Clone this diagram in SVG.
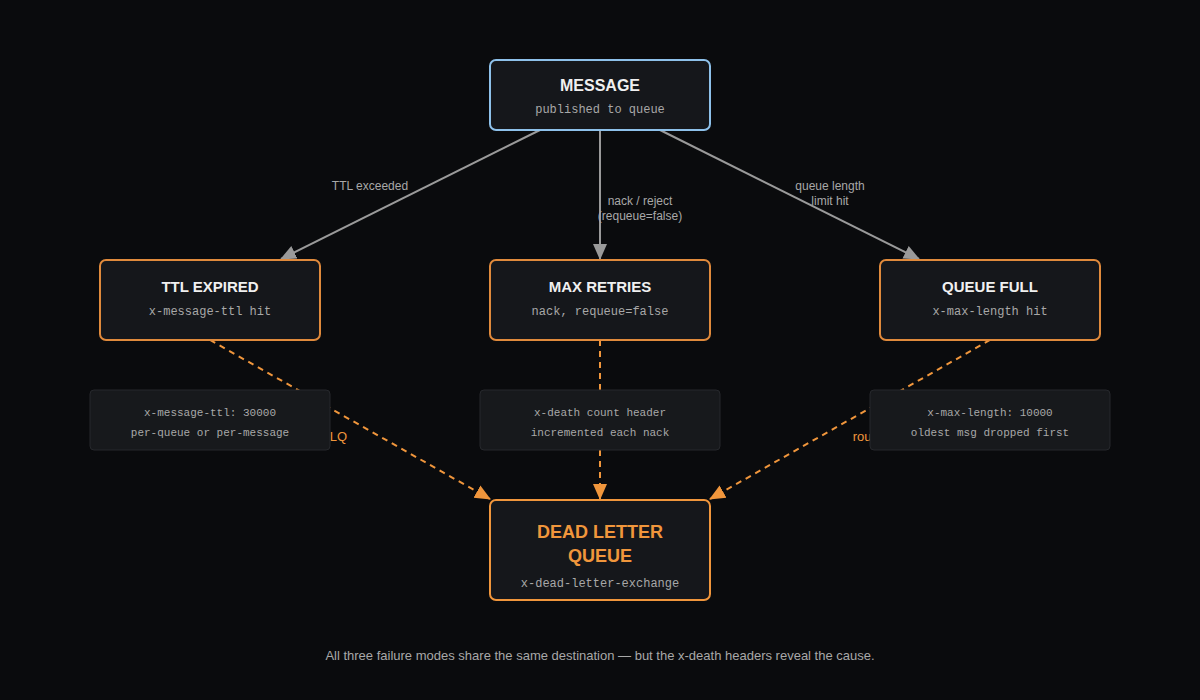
<svg xmlns="http://www.w3.org/2000/svg" width="1200" height="700" viewBox="0 0 1200 700">
<style>
.node{fill:#15171b;stroke-width:2}
.t{font-family:"Liberation Sans",Arial,sans-serif;font-weight:bold;fill:#f0f0f0;text-anchor:middle}
.m{font-family:"Liberation Mono",monospace;fill:#a8a8a8;text-anchor:middle;font-size:12px}
.n{font-family:"Liberation Mono",monospace;fill:#a8a8a8;text-anchor:middle;font-size:11px}
.l{font-family:"Liberation Sans",Arial,sans-serif;fill:#a8a8a8;text-anchor:middle;font-size:12px}
.g{stroke:#9a9a9a;stroke-width:2;fill:none}
.o{stroke:#f0963c;stroke-width:2;fill:none;stroke-dasharray:6 5}
.note{fill:#17191c;stroke:#26282c;stroke-width:1}
</style>
<defs>
<marker id="ag" viewBox="0 0 10 10" refX="9" refY="5" markerWidth="8" markerHeight="8" orient="auto-start-reverse" markerUnits="userSpaceOnUse"><path d="M0,0L10,5L0,10z" fill="#9a9a9a" transform="scale(1.6) translate(-4,-2)"/></marker>
<marker id="ao" viewBox="0 0 16 16" refX="15" refY="8" markerWidth="16" markerHeight="16" orient="auto" markerUnits="userSpaceOnUse"><path d="M0,1L16,8L0,15z" fill="#f0963c"/></marker>
<marker id="ag2" viewBox="0 0 16 16" refX="15" refY="8" markerWidth="16" markerHeight="16" orient="auto" markerUnits="userSpaceOnUse"><path d="M0,1L16,8L0,15z" fill="#9a9a9a"/></marker>
</defs>
<rect width="1200" height="700" fill="#0a0b0d"/>
<g id="connectors">
<line class="g" x1="540" y1="130" x2="281" y2="259" marker-end="url(#ag2)"/>
<line class="g" x1="600" y1="130" x2="600" y2="259" marker-end="url(#ag2)"/>
<line class="g" x1="660" y1="130" x2="919" y2="259" marker-end="url(#ag2)"/>
<text class="l" x="370" y="190">TTL exceeded</text>
<text class="l" x="640" y="205">nack / reject</text>
<text class="l" x="640" y="220">(requeue=false)</text>
<text class="l" x="830" y="190">queue length</text>
<text class="l" x="830" y="205">limit hit</text>
<line class="o" x1="210" y1="340" x2="490" y2="499" marker-end="url(#ao)"/>
<line class="o" x1="600" y1="340" x2="600" y2="499" marker-end="url(#ao)"/>
<line class="o" x1="990" y1="340" x2="710" y2="499" marker-end="url(#ao)"/>
<text x="310" y="441" style="font-family:'Liberation Sans',Arial,sans-serif;font-size:13px;fill:#f0963c" text-anchor="middle">route to DLQ</text>
<text x="890" y="441" style="font-family:'Liberation Sans',Arial,sans-serif;font-size:13px;fill:#f0963c" text-anchor="middle">route to DLQ</text>
</g>
<g id="message"><rect class="node" x="490" y="60" width="220" height="70" rx="6" stroke="#8ec1ea"/><text class="t" x="600" y="91" font-size="16">MESSAGE</text><text class="m" x="600" y="113">published to queue</text></g>
<g id="ttl"><rect class="node" x="100" y="260" width="220" height="80" rx="6" stroke="#e08a3c"/><text class="t" x="210" y="292" font-size="15">TTL EXPIRED</text><text class="m" x="210" y="315">x-message-ttl hit</text></g>
<g id="retries"><rect class="node" x="490" y="260" width="220" height="80" rx="6" stroke="#e08a3c"/><text class="t" x="600" y="292" font-size="15">MAX RETRIES</text><text class="m" x="600" y="315">nack, requeue=false</text></g>
<g id="full"><rect class="node" x="880" y="260" width="220" height="80" rx="6" stroke="#e08a3c"/><text class="t" x="990" y="292" font-size="15">QUEUE FULL</text><text class="m" x="990" y="315">x-max-length hit</text></g>
<g id="note1"><rect class="note" x="90" y="390" width="240" height="60" rx="4"/><text class="n" x="210" y="416">x-message-ttl: 30000</text><text class="n" x="210" y="436">per-queue or per-message</text></g>
<g id="note2"><rect class="note" x="480" y="390" width="240" height="60" rx="4"/><text class="n" x="600" y="416">x-death count header</text><text class="n" x="600" y="436">incremented each nack</text></g>
<g id="note3"><rect class="note" x="870" y="390" width="240" height="60" rx="4"/><text class="n" x="990" y="416">x-max-length: 10000</text><text class="n" x="990" y="436">oldest msg dropped first</text></g>
<g id="dlq"><rect class="node" x="490" y="500" width="220" height="100" rx="6" stroke="#f0963c"/><text class="t" x="600" y="538" font-size="18" style="fill:#f0963c">DEAD LETTER</text><text class="t" x="600" y="562" font-size="18" style="fill:#f0963c">QUEUE</text><text class="m" x="600" y="587">x-dead-letter-exchange</text></g>
<text class="l" x="600" y="660" font-size="13" style="font-size:13px">All three failure modes share the same destination — but the x-death headers reveal the cause.</text>
</svg>
